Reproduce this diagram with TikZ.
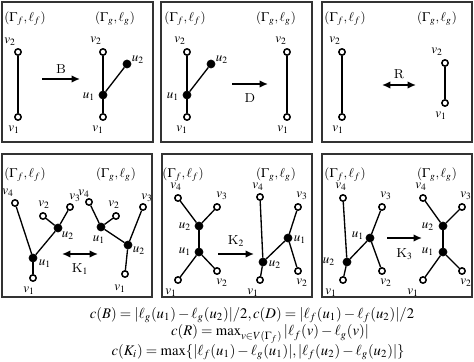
\documentclass[tikz,border=0pt]{standalone}
\usepackage{amsmath, amssymb}
\usepackage{mathptmx}
\usepackage{tikz}
\usetikzlibrary{arrows.meta, positioning}

\tikzset{
  panel/.style={draw=black!80, line width=1pt},
  vo/.style={circle, draw, fill=white, line width=0.9pt, inner sep=0pt, minimum size=3.8pt},
  vf/.style={circle, draw, fill=black, inner sep=0pt, minimum size=4.8pt},
  edge/.style={line width=0.8pt},
  move/.style={line width=1pt, -{Latex[length=5pt,width=4.5pt]}},
  swap/.style={line width=1pt, {Latex[length=5pt,width=4.5pt]}-{Latex[length=5pt,width=4.5pt]}},
  lab/.style={inner sep=0pt, font=\fontsize{7.8}{9}\selectfont},
  cost/.style={inner sep=0pt, font=\fontsize{8.8}{10}\selectfont}
}

\begin{document}
\begin{tikzpicture}[x=0.6pt, y=-0.6pt]
\useasboundingbox (0,0) rectangle (474,362);
% frames
\draw[panel] (2,2) rectangle (153,142);
\draw[panel] (161,2) rectangle (312,142);
\draw[panel] (322,2) rectangle (472,142);
\draw[panel] (2,154) rectangle (152,297);
\draw[panel] (162,154) rectangle (312,297);
\draw[panel] (322,154) rectangle (472,297);

% ---- B ----
\node[lab] (b-tf) at (25,19) {$(\Gamma_f,\ell_f)$};
\node[lab] (b-tg) at (115,19) {$(\Gamma_g,\ell_g)$};
\node[vo] (b-v2) at (18,52) {};
\node[vo] (b-v1) at (18,117) {};
\draw[edge] (b-v1) -- (b-v2);
\node[lab] at (10,42) {$v_2$};
\node[lab] at (14,130) {$v_1$};
\coordinate (b-s) at (42,79);
\coordinate (b-e) at (80,79);
\draw[move] (b-s) -- (b-e) node[midway, above=3pt, lab] {B};
\node[vo] (b-w2) at (103,52) {};
\node[vo] (b-w1) at (103,117) {};
\node[vf] (b-u1) at (103,95) {};
\node[vf] (b-u2) at (127,64) {};
\draw[edge] (b-w1) -- (b-u1) -- (b-w2);
\draw[edge] (b-u1) -- (b-u2);
\node[lab] at (96,41) {$v_2$};
\node[lab] at (98,130) {$v_1$};
\node[lab] at (89,97) {$u_1$};
\node[lab] at (138,60) {$u_2$};

% ---- D ----
\node[lab] (d-tf) at (185,19) {$(\Gamma_f,\ell_f)$};
\node[lab] (d-tg) at (276,19) {$(\Gamma_g,\ell_g)$};
\node[vo] (d-v2) at (187,52) {};
\node[vo] (d-v1) at (187,117) {};
\node[vf] (d-u1) at (187,95) {};
\node[vf] (d-u2) at (211,64) {};
\draw[edge] (d-v1) -- (d-u1) -- (d-v2);
\draw[edge] (d-u1) -- (d-u2);
\node[lab] at (180,41) {$v_2$};
\node[lab] at (182,130) {$v_1$};
\node[lab] at (173,97) {$u_1$};
\node[lab] at (222,60) {$u_2$};
\coordinate (d-s) at (232,84);
\coordinate (d-e) at (268,84);
\draw[move] (d-s) -- (d-e) node[midway, below=5pt, lab] {D};
\node[vo] (d-w2) at (287,52) {};
\node[vo] (d-w1) at (287,117) {};
\draw[edge] (d-w1) -- (d-w2);
\node[lab] at (281,41) {$v_2$};
\node[lab] at (283,130) {$v_1$};

% ---- R ----
\node[lab] (r-tf) at (345,19) {$(\Gamma_f,\ell_f)$};
\node[lab] (r-tg) at (437,19) {$(\Gamma_g,\ell_g)$};
\node[vo] (r-v2) at (342,52) {};
\node[vo] (r-v1) at (342,117) {};
\draw[edge] (r-v1) -- (r-v2);
\node[lab] at (335,41) {$v_2$};
\node[lab] at (338,130) {$v_1$};
\coordinate (r-s) at (382,85);
\coordinate (r-e) at (416,85);
\draw[swap] (r-s) -- (r-e) node[midway, above=3pt, lab] {R};
\node[vo] (r-w2) at (445,63) {};
\node[vo] (r-w1) at (445,103) {};
\draw[edge] (r-w1) -- (r-w2);
\node[lab] at (437,52) {$v_2$};
\node[lab] at (441,116) {$v_1$};

% ---- K1 ----
\node[lab] (k1-tf) at (25,175) {$(\Gamma_f,\ell_f)$};
\node[lab] (k1-tg) at (116,175) {$(\Gamma_g,\ell_g)$};
\node[vo] (k1-v4) at (15,203) {};
\node[vo] (k1-v2) at (43,216) {};
\node[vo] (k1-v3) at (70,207) {};
\node[vf] (k1-u2) at (58,228) {};
\node[vf] (k1-u1) at (33,258) {};
\node[vo] (k1-v1) at (33,278) {};
\draw[edge] (k1-v4) -- (k1-u1) -- (k1-u2) -- (k1-v3);
\draw[edge] (k1-u2) -- (k1-v2);
\draw[edge] (k1-u1) -- (k1-v1);
\node[lab] at (8,193) {$v_4$};
\node[lab] at (44,205) {$v_2$};
\node[lab] at (75,198) {$v_3$};
\node[lab] at (68,236) {$u_2$};
\node[lab] at (45,264) {$u_1$};
\node[lab] at (29,291) {$v_1$};
\coordinate (k1-s) at (62,254);
\coordinate (k1-e) at (98,254);
\draw[swap] (k1-s) -- (k1-e) node[midway, below=5pt, lab] {K$_1$};
\node[vo] (k1-w4) at (89,202) {};
\node[vo] (k1-w2) at (116,216) {};
\node[vf] (k1-x1) at (101,227) {};
\node[vf] (k1-x2) at (128,245) {};
\node[vo] (k1-w3) at (143,207) {};
\node[vo] (k1-w1) at (125,274) {};
\draw[edge] (k1-w4) -- (k1-x1) -- (k1-x2) -- (k1-w3);
\draw[edge] (k1-w2) -- (k1-x1);
\draw[edge] (k1-x2) -- (k1-w1);
\node[lab] at (84,194) {$v_4$};
\node[lab] at (114,205) {$v_2$};
\node[lab] at (147,198) {$v_3$};
\node[lab] at (99,240) {$u_1$};
\node[lab] at (139,251) {$u_2$};
\node[lab] at (120,289) {$v_1$};

% ---- K2 ----
\node[lab] (k2-tf) at (183,175) {$(\Gamma_f,\ell_f)$};
\node[lab] (k2-tg) at (276,175) {$(\Gamma_g,\ell_g)$};
\node[vo] (k2-v4) at (178,198) {};
\node[vo] (k2-v3) at (217,207) {};
\node[vf] (k2-u2) at (199,226) {};
\node[vf] (k2-u1) at (199,252) {};
\node[vo] (k2-v1) at (178,280) {};
\node[vo] (k2-v2) at (217,271) {};
\draw[edge] (k2-v4) -- (k2-u2) -- (k2-v3);
\draw[edge] (k2-u2) -- (k2-u1);
\draw[edge] (k2-v1) -- (k2-u1) -- (k2-v2);
\node[lab] at (176,187) {$v_4$};
\node[lab] at (222,196) {$v_3$};
\node[lab] at (185,227) {$u_2$};
\node[lab] at (185,252) {$u_1$};
\node[lab] at (222,283) {$v_2$};
\node[lab] at (171,293) {$v_1$};
\coordinate (k2-s) at (218,254);
\coordinate (k2-e) at (254,254);
\draw[move] (k2-s) -- (k2-e) node[midway, above=4pt, lab] {K$_2$};
\node[vo] (k2-w4) at (260,197) {};
\node[vo] (k2-w3) at (298,207) {};
\node[vf] (k2-x1) at (288,238) {};
\node[vf] (k2-x2) at (263,262) {};
\node[vo] (k2-w1) at (260,280) {};
\node[vo] (k2-w2) at (298,271) {};
\draw[edge] (k2-w4) -- (k2-x2) -- (k2-w1);
\draw[edge] (k2-x2) -- (k2-x1) -- (k2-w3);
\draw[edge] (k2-x1) -- (k2-w2);
\node[lab] at (258,187) {$v_4$};
\node[lab] at (302,196) {$v_3$};
\node[lab] at (300,240) {$u_1$};
\node[lab] at (275,265) {$u_2$};
\node[lab] at (302,283) {$v_2$};
\node[lab] at (253,293) {$v_1$};

% ---- K3 ----
\node[lab] (k3-tf) at (345,175) {$(\Gamma_f,\ell_f)$};
\node[lab] (k3-tg) at (437,175) {$(\Gamma_g,\ell_g)$};
\node[vo] (k3-v4) at (343,198) {};
\node[vo] (k3-v3) at (382,207) {};
\node[vf] (k3-u1) at (370,238) {};
\node[vf] (k3-u2) at (347,262) {};
\node[vo] (k3-v1) at (343,280) {};
\node[vo] (k3-v2) at (382,271) {};
\draw[edge] (k3-v4) -- (k3-u2) -- (k3-v1);
\draw[edge] (k3-u2) -- (k3-u1) -- (k3-v3);
\draw[edge] (k3-u1) -- (k3-v2);
\node[lab] at (341,187) {$v_4$};
\node[lab] at (386,196) {$v_3$};
\node[lab] at (358,236) {$u_1$};
\node[lab] at (329,262) {$u_2$};
\node[lab] at (386,283) {$v_2$};
\node[lab] at (331,293) {$v_1$};
\coordinate (k3-s) at (387,238);
\coordinate (k3-e) at (422,238);
\draw[move] (k3-s) -- (k3-e) node[midway, below=6pt, lab] {K$_3$};
\node[vo] (k3-w4) at (423,198) {};
\node[vo] (k3-w3) at (462,207) {};
\node[vf] (k3-x2) at (443,226) {};
\node[vf] (k3-x1) at (443,252) {};
\node[vo] (k3-w1) at (423,280) {};
\node[vo] (k3-w2) at (462,271) {};
\draw[edge] (k3-w4) -- (k3-x2) -- (k3-w3);
\draw[edge] (k3-x2) -- (k3-x1);
\draw[edge] (k3-w1) -- (k3-x1) -- (k3-w2);
\node[lab] at (421,187) {$v_4$};
\node[lab] at (466,196) {$v_3$};
\node[lab] at (428,227) {$u_2$};
\node[lab] at (428,252) {$u_1$};
\node[lab] at (466,283) {$v_2$};
\node[lab] at (413,293) {$v_1$};

% costs
\node[cost] (cbd) at (252,315) {$c(B)=|\ell_g(u_1)-\ell_g(u_2)|/2, c(D)=|\ell_f(u_1)-\ell_f(u_2)|/2$};
\node[cost] (cr) at (270,334) {$c(R)=\max_{v\in V(\Gamma_f)}|\ell_f(v)-\ell_g(v)|$};
\node[cost] (ck) at (258,352) {$c(K_i)=\max\{|\ell_f(u_1)-\ell_g(u_1)|,|\ell_f(u_2)-\ell_g(u_2)|\}$};
\end{tikzpicture}
\end{document}
